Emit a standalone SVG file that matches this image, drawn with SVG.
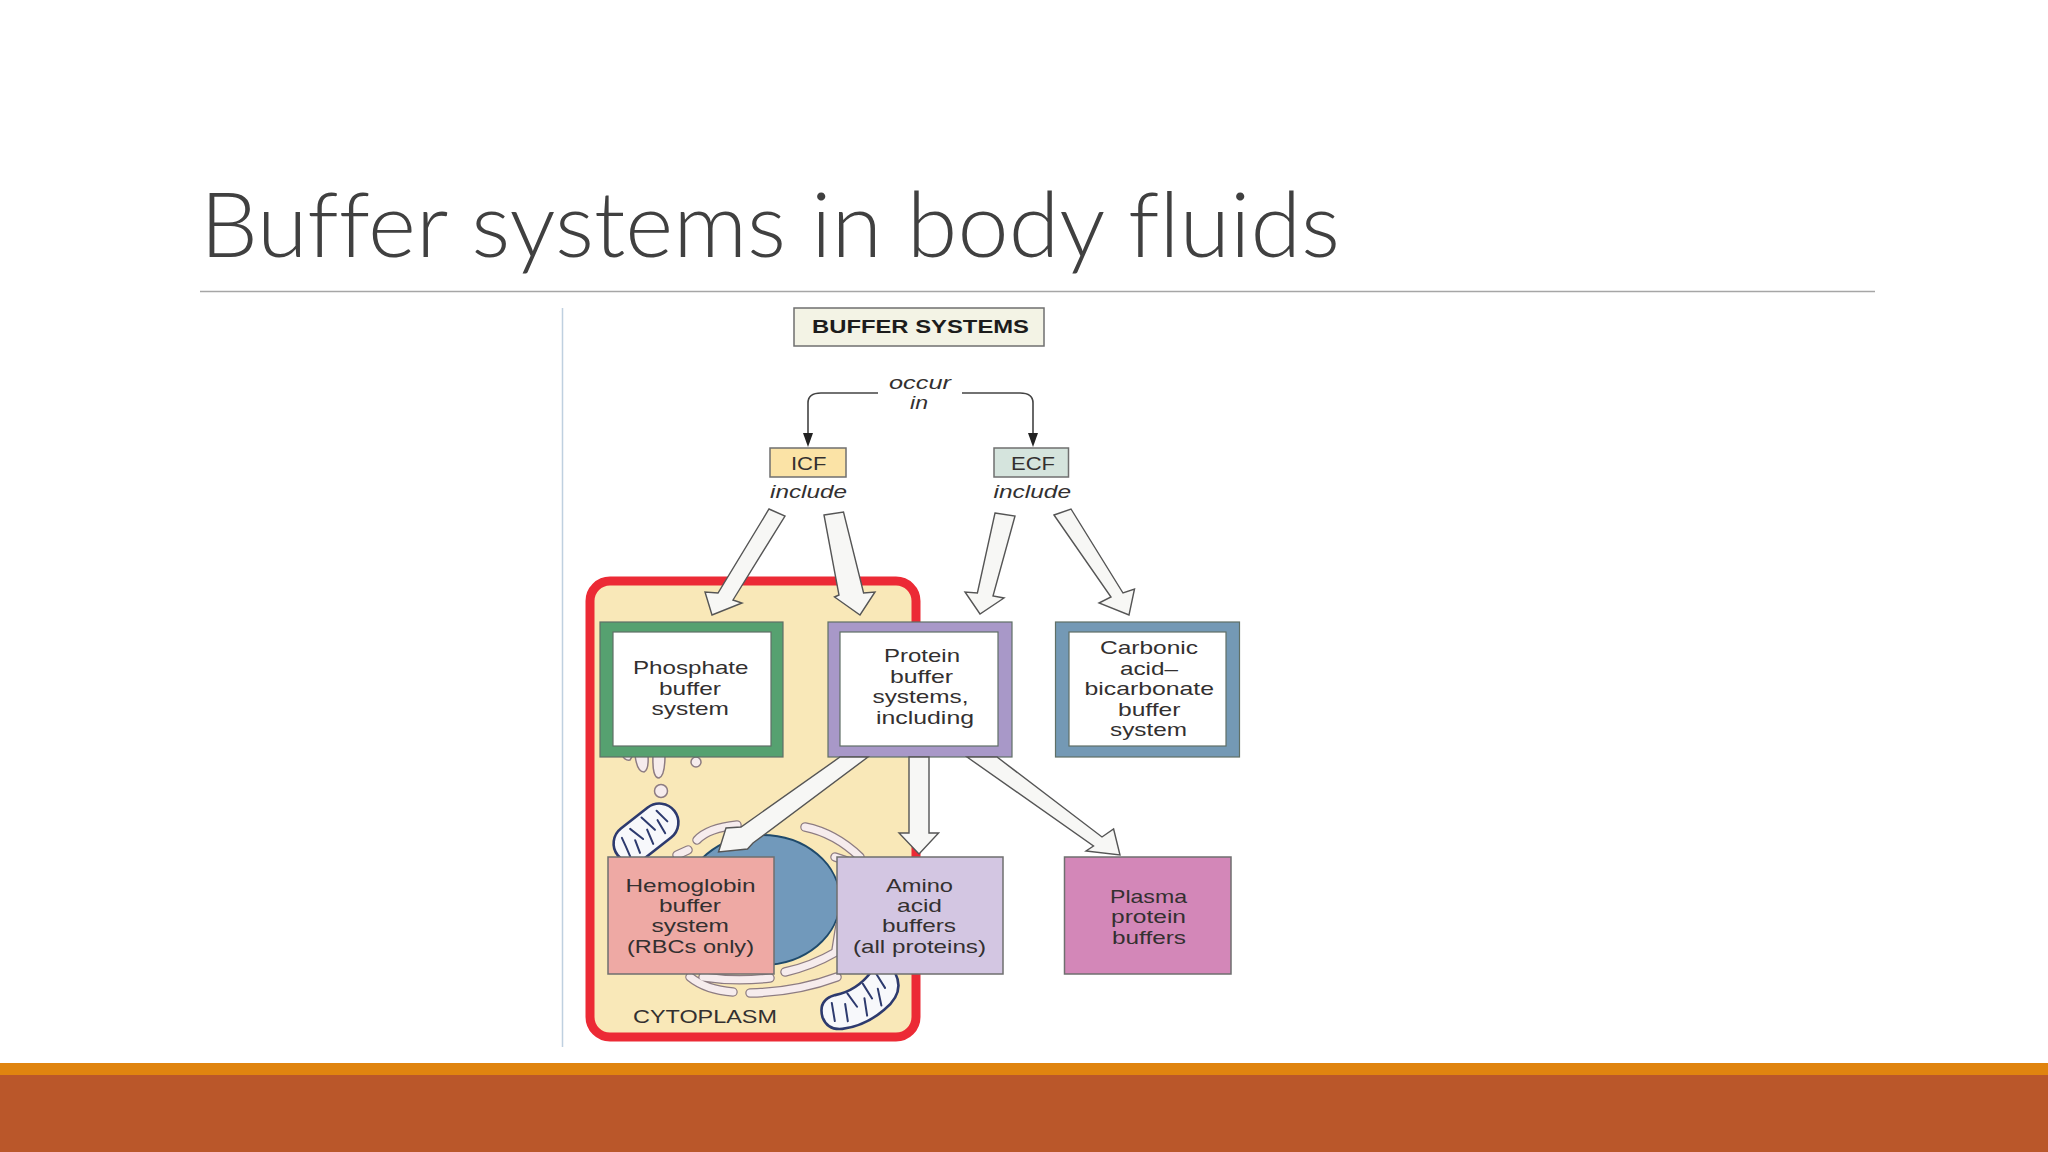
<svg xmlns="http://www.w3.org/2000/svg" width="2048" height="1152" viewBox="0 0 2048 1152">
<style>
text{font-family:"Liberation Sans",Arial,sans-serif;fill:#333030}
.t{font-size:18.5px}
.i{font-size:18.5px;font-style:italic}
.title{font-family:Lato,"Open Sans",sans-serif;font-weight:300;font-size:91px;fill:#404040;font-variant-ligatures:none}
.b{stroke:#6f6f6f;stroke-width:1.5}
.frame{stroke:#5f6f66;stroke-width:1.2}
.blk{fill:#f7f7f5;stroke:#555;stroke-width:1.4;stroke-linejoin:miter}
.thin{fill:none;stroke:#444;stroke-width:1.6}
.head{fill:#222}
.erO{fill:none;stroke:#8d7c82;stroke-width:9.5;stroke-linecap:round}
.erI{fill:none;stroke:#f6eced;stroke-width:7;stroke-linecap:round}
.ves{fill:#f6eced;stroke:#8d7c82;stroke-width:1.5}
.mito{fill:#f7f8fb;stroke:#2d3a6e;stroke-width:2.6}
.crist{fill:none;stroke:#2d3a6e;stroke-width:2;stroke-linecap:round}
</style>
<rect width="2048" height="1152" fill="#ffffff"/>
<rect x="0" y="1063" width="2048" height="12" fill="#e0840f"/>
<rect x="0" y="1075" width="2048" height="77" fill="#ba572a"/>
<g id="title">
<text class="title" x="200" y="257" textLength="1140" lengthAdjust="spacingAndGlyphs">Buffer systems in body fluids</text>
<line x1="200" y1="291.500" x2="1875" y2="291.500" stroke="#a6a6a6" stroke-width="1.5"/>
</g>
<line x1="562.500" y1="308" x2="562.500" y2="1047" stroke="#bfd0e0" stroke-width="1.5"/>
<g id="cytoplasm">
<rect x="590" y="581" width="326" height="456" rx="20" fill="#f9e8b8" stroke="#ec2a35" stroke-width="9"/>
<ellipse cx="762" cy="900" rx="78" ry="65" fill="#7199bb" stroke="#1f4a6b" stroke-width="2"/>
<g id="er">
<path class="erO" d="M697 840Q708 828 737 825M805 827Q835 833 860 857M677 855L688 850M690 977Q706 990 733 992M703 977Q735 982 770 978M750 993Q797 992 837 977M785 972Q812 966 836 952M836 950L840 925M835 857L850 862"/>
<path class="erI" d="M697 840Q708 828 737 825M805 827Q835 833 860 857M677 855L688 850M690 977Q706 990 733 992M703 977Q735 982 770 978M750 993Q797 992 837 977M785 972Q812 966 836 952M836 950L840 925M835 857L850 862"/>
<path class="ves" d="M635 755Q637 772 644 772Q649 770 648 755Z"/>
<path class="ves" d="M653 755Q652 778 659 778Q665 776 665 755Z"/>
<path class="ves" d="M622 755Q625 761 630 760L633 755Z"/>
<circle cx="696" cy="762" r="5" class="ves"/>
<circle cx="661" cy="791" r="6.500" class="ves"/>
</g>
<g id="mito1" transform="translate(646 833) rotate(-38)">
<rect x="-36" y="-19" width="72" height="38" rx="19" class="mito"/>
<path class="crist" d="M-27 9Q-24 -2 -22 -11M-17 12L-13 -1M-10 -13L-6 3M-1 13L3 -2M6 -15L9 3M15 12L17 -3M22 -11L24 4"/>
</g>
<g id="mito2" transform="translate(860 998) rotate(-22)">
<path class="mito" d="M-42 4Q-40 -14 -22 -12Q0 -8 20 -20Q38 -26 42 -10Q44 12 18 20Q-6 28 -28 22Q-42 18 -42 4Z"/>
<path class="crist" d="M-32 12L-28 -6M-20 17L-16 0M-10 -9L-6 7M0 19L4 2M8 -12L11 5M17 15L20 -2M24 -17L27 0"/>
</g>
</g>
<g id="node-buffer-systems">
<rect x="794" y="308" width="250" height="38" fill="#f3f3e5" class="b"/>
<text x="812" y="333" font-weight="700" font-size="18.500" textLength="217" lengthAdjust="spacingAndGlyphs" style="fill:#1c1c1c">BUFFER SYSTEMS</text>
</g>
<g id="label-occur-in">
<text class="i" x="889" y="389" textLength="62" lengthAdjust="spacingAndGlyphs">occur</text>
<text class="i" x="910" y="409" textLength="18" lengthAdjust="spacingAndGlyphs">in</text>
</g>
<g id="node-icf">
<rect x="770" y="448" width="76" height="29" fill="#fbe3a6" class="b"/>
<text class="t" x="791" y="470" textLength="35.500" lengthAdjust="spacingAndGlyphs">ICF</text>
<text class="i" x="770" y="498" textLength="77" lengthAdjust="spacingAndGlyphs">include</text>
</g>
<g id="node-ecf">
<rect x="994" y="448" width="74.500" height="29" fill="#d5e4dd" class="b"/>
<text class="t" x="1011" y="470" textLength="44" lengthAdjust="spacingAndGlyphs">ECF</text>
<text class="i" x="993.500" y="498" textLength="77.500" lengthAdjust="spacingAndGlyphs">include</text>
</g>
<g id="node-phosphate">
<rect x="600" y="622" width="183" height="135" fill="#56a170" class="frame"/>
<rect x="613" y="632" width="158" height="114" fill="#ffffff" class="frame"/>
<text class="t" x="633" y="674" textLength="115.500" lengthAdjust="spacingAndGlyphs">Phosphate</text>
<text class="t" x="659" y="695" textLength="62" lengthAdjust="spacingAndGlyphs">buffer</text>
<text class="t" x="651.500" y="715" textLength="77.500" lengthAdjust="spacingAndGlyphs">system</text>
</g>
<g id="node-protein">
<rect x="828" y="622" width="184" height="135" fill="#a898c8" class="frame"/>
<rect x="840" y="632" width="158" height="114" fill="#ffffff" class="frame"/>
<text class="t" x="884" y="662" textLength="76" lengthAdjust="spacingAndGlyphs">Protein</text>
<text class="t" x="890" y="683" textLength="63" lengthAdjust="spacingAndGlyphs">buffer</text>
<text class="t" x="872.500" y="703" textLength="96" lengthAdjust="spacingAndGlyphs">systems,</text>
<text class="t" x="876" y="724" textLength="98" lengthAdjust="spacingAndGlyphs">including</text>
</g>
<g id="node-carbonic">
<rect x="1055.500" y="622" width="184" height="135" fill="#7499b5" class="frame"/>
<rect x="1069" y="632" width="157" height="114" fill="#ffffff" class="frame"/>
<text class="t" x="1100" y="654" textLength="98" lengthAdjust="spacingAndGlyphs">Carbonic</text>
<text class="t" x="1120" y="675" textLength="58" lengthAdjust="spacingAndGlyphs">acid–</text>
<text class="t" x="1084.500" y="695" textLength="129.500" lengthAdjust="spacingAndGlyphs">bicarbonate</text>
<text class="t" x="1118" y="716" textLength="62.500" lengthAdjust="spacingAndGlyphs">buffer</text>
<text class="t" x="1110" y="736" textLength="77" lengthAdjust="spacingAndGlyphs">system</text>
</g>
<g id="node-hemoglobin">
<rect x="608" y="857" width="166" height="117" fill="#eea9a4" class="b"/>
<text class="t" x="625.500" y="892" textLength="130" lengthAdjust="spacingAndGlyphs">Hemoglobin</text>
<text class="t" x="659" y="912" textLength="62" lengthAdjust="spacingAndGlyphs">buffer</text>
<text class="t" x="651.500" y="932" textLength="77.500" lengthAdjust="spacingAndGlyphs">system</text>
<text class="t" x="627" y="953" textLength="127" lengthAdjust="spacingAndGlyphs">(RBCs only)</text>
</g>
<g id="node-amino">
<rect x="837" y="857" width="166" height="117" fill="#d3c6e2" class="b"/>
<text class="t" x="886" y="892" textLength="67" lengthAdjust="spacingAndGlyphs">Amino</text>
<text class="t" x="897" y="912" textLength="45" lengthAdjust="spacingAndGlyphs">acid</text>
<text class="t" x="882" y="932" textLength="74" lengthAdjust="spacingAndGlyphs">buffers</text>
<text class="t" x="853" y="953" textLength="133" lengthAdjust="spacingAndGlyphs">(all proteins)</text>
</g>
<g id="node-plasma">
<rect x="1064.500" y="857" width="166.500" height="117" fill="#d387b8" class="b"/>
<text class="t" x="1110" y="903" textLength="77" lengthAdjust="spacingAndGlyphs">Plasma</text>
<text class="t" x="1111" y="923" textLength="75" lengthAdjust="spacingAndGlyphs">protein</text>
<text class="t" x="1112" y="944" textLength="74" lengthAdjust="spacingAndGlyphs">buffers</text>
</g>
<text id="label-cytoplasm" x="633" y="1023" font-size="18.500" textLength="144" lengthAdjust="spacingAndGlyphs">CYTOPLASM</text>
<g id="connectors">
<path class="thin" d="M878 393H821Q808 393 808 403V435"/>
<path class="head" d="M803 433H813L808 447Z"/>
<path class="thin" d="M962 393H1020Q1033 393 1033 403V435"/>
<path class="head" d="M1028 433H1038L1033 447Z"/>
<path class="blk" d="M769 509L785 516L733 600L742 603L712 615L705 592L718 593Z"/>
<path class="blk" d="M824 515L843.500 512L863.600 593L875 592L860 615L834.500 597L839 595Z"/>
<path class="blk" d="M995 513L1015 516L993 596L1004 598L980 614L965 592L977.400 593Z"/>
<path class="blk" d="M1054 515L1071 509L1123 593L1134.500 589L1129 615L1099 603L1111 597Z"/>
<path class="blk" d="M840 757L868 757L753 843L747.500 849L718.500 852L726 828L741 827Z"/>
<path class="blk" d="M909 757H929V833H938.600L919 854L899 833H909Z"/>
<path class="blk" d="M967 757L997 757L1102 837L1113.600 829L1120 855L1086 851L1093.500 846Z"/>
</g>
</svg>
